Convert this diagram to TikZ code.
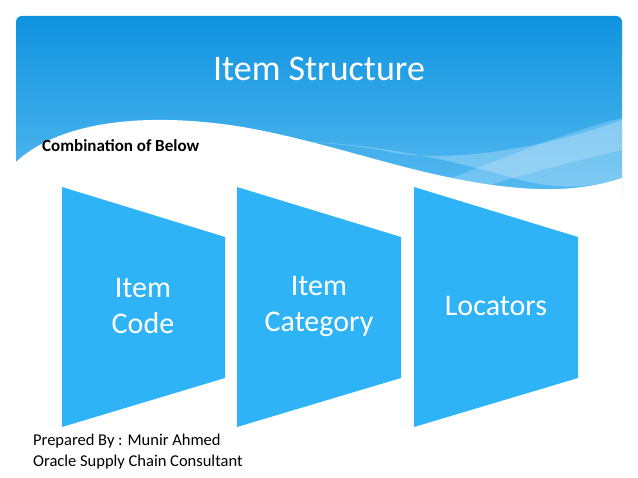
\documentclass[tikz,border=0pt]{standalone}
\usepackage{fontspec}
\setmainfont{Carlito}
\begin{document}
\begin{tikzpicture}[x=1pt,y=-1pt,
  panel/.style={fill=shapeblue,draw=none},
  lbl/.style={text=white,font=\fontsize{30}{36}\selectfont,align=center}]
\definecolor{shapeblue}{HTML}{2EB3F6}
\definecolor{topblue}{HTML}{0F93DF}
\definecolor{botblue}{HTML}{5CBDF2}
\useasboundingbox (0,0) rectangle (638,478);
\fill[white] (0,0) rectangle (638,478);
% banner
\begin{scope}
\clip[rounded corners=6] (16,16) rectangle (622,300);
\shade[top color=topblue,bottom color=botblue]
  (16,16) -- (622,16) -- (622,198) -- (560,210) -- (16,210) -- cycle;
\fill[white] (16,162) .. controls (50,130) and (120,110) .. (230,125)
  .. controls (330,140) and (420,180) .. (520,188)
  .. controls (570,192) and (600,185) .. (622,178) -- (622,300) -- (16,300) -- cycle;
\fill[white,opacity=0.25] (200,148) .. controls (300,130) and (420,150) .. (520,180)
  .. controls (570,192) and (600,185) .. (622,178) -- (622,120)
  .. controls (540,150) and (440,165) .. (380,150) .. controls (320,140) and (260,138) .. (200,148) -- cycle;
\fill[white,opacity=0.2] (420,190) .. controls (500,160) and (570,130) .. (622,118) -- (622,150)
  .. controls (560,165) and (500,180) .. (470,192) -- cycle;
\end{scope}
\node[text=white,font=\fontsize{36}{42}\selectfont] (title) at (319,69) {Item Structure};
\node[font=\bfseries\fontsize{17}{20}\selectfont,anchor=west,inner sep=0pt] (sub) at (42,146) {Combination of Below};
% panels
\fill[panel] (62,187) -- (225,237) -- (225,378) -- (62,427) -- cycle;
\fill[panel] (237,187) -- (401,237) -- (401,378) -- (237,427) -- cycle;
\fill[panel] (414,187) -- (578,237) -- (578,378) -- (414,427) -- cycle;
\node[lbl] (a) at (143,306) {Item\\Code};
\node[lbl] (b) at (319,306) {Item\\Category};
\node[lbl] (c) at (496,306) {Locators};
\node[anchor=west,align=left,font=\fontsize{16.5}{21}\selectfont,inner sep=0pt] (prep) at (33,452)
  {Prepared By : Munir Ahmed\\Oracle Supply Chain Consultant};
\end{tikzpicture}
\end{document}
